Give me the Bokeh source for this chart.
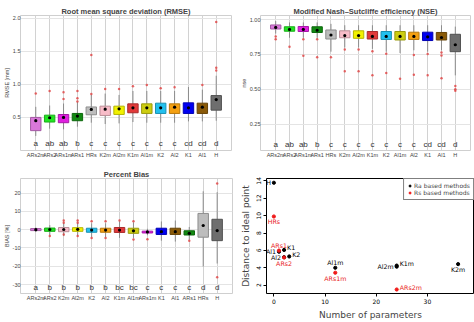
from bokeh.plotting import figure
from bokeh.models import FactorRange, Range1d, FixedTicker
from bokeh.layouts import row, column
from bokeh.embed import file_html
from bokeh.resources import INLINE
from bokeh.core.properties import value

FONT = "Liberation Sans"
SFONT = "DejaVu Sans"

method_colors = {
    "ARs2m": "#DA78DA", "ARs2": "#22E622", "ARs1m": "#E020E0", "ARs1": "#138A13",
    "HRs": "#BDBDBD", "K2m": "#F8BCC8", "Al2m": "#F2F200", "K1m": "#E23A3A",
    "Al1m": "#CDCD10", "K2": "#22C0EE", "Al2": "#F4A012", "K1": "#0000F0",
    "Al1": "#8A5A08", "H": "#6E6E6E",
}

# ---------------- RMSE ----------------
rmse_cats = ["ARs2m", "ARs2", "ARs1m", "ARs1", "HRs", "K2m", "Al2m", "K1m", "Al1m", "K2", "Al2", "K1", "Al1", "H"]
rmse_q1 = [0.30, 0.43, 0.42, 0.45, 0.54, 0.53, 0.545, 0.57, 0.56, 0.56, 0.56, 0.56, 0.56, 0.61]
rmse_med = [0.44, 0.48, 0.485, 0.51, 0.61, 0.61, 0.61, 0.64, 0.635, 0.635, 0.64, 0.635, 0.65, 0.69]
rmse_q3 = [0.50, 0.534, 0.544, 0.56, 0.658, 0.67, 0.67, 0.705, 0.705, 0.715, 0.705, 0.72, 0.715, 0.83]
rmse_lo = [0.22, 0.33, 0.32, 0.36, 0.42, 0.40, 0.41, 0.43, 0.42, 0.42, 0.42, 0.44, 0.44, 0.45]
rmse_hi = [0.66, 0.68, 0.71, 0.73, 0.84, 0.86, 0.84, 0.90, 0.90, 0.90, 0.90, 0.96, 0.92, 1.13]
rmse_mean = [0.45, 0.495, 0.50, 0.52, 0.62, 0.625, 0.63, 0.645, 0.645, 0.645, 0.655, 0.645, 0.655, 0.77]
rmse_out_cat = ["ARs2m", "ARs2", "ARs1m", "ARs1m", "ARs1", "ARs1", "ARs1", "HRs", "HRs", "K2m",
                "Al2m", "K1m", "Al1m", "K2", "Al2", "Al1", "H", "H", "H"]
rmse_out_val = [0.86, 0.90, 0.88, 0.78, 0.90, 0.79, 0.74, 1.445, 0.855, 0.93,
                0.93, 0.97, 0.99, 0.94, 0.955, 0.99, 1.94, 1.25, 1.21]
rmse_letters = ["a", "ab", "ab", "b", "c", "c", "c", "c", "c", "c", "c", "cd", "cd", "d"]
rmse_ticks = [0.5, 1.0, 1.5, 2.0]
rmse_tick_labels = ["0.5", "1.0", "1.5", "2.0"]

# ---------------- NSE ----------------
nse_cats = ["ARs2m", "ARs2", "ARs1m", "ARs1", "HRs", "K2m", "Al2m", "K1m", "K2", "Al1m", "Al2", "K1", "Al1", "H"]
nse_q1 = [0.933, 0.917, 0.915, 0.908, 0.861, 0.870, 0.866, 0.861, 0.858, 0.854, 0.858, 0.850, 0.854, 0.770]
nse_med = [0.950, 0.940, 0.937, 0.935, 0.904, 0.904, 0.900, 0.895, 0.890, 0.892, 0.890, 0.880, 0.880, 0.864]
nse_q3 = [0.962, 0.949, 0.951, 0.949, 0.926, 0.920, 0.920, 0.915, 0.915, 0.915, 0.910, 0.910, 0.908, 0.895]
nse_lo = [0.90, 0.87, 0.87, 0.87, 0.77, 0.80, 0.80, 0.79, 0.77, 0.76, 0.78, 0.77, 0.78, 0.60]
nse_hi = [0.99, 0.98, 0.98, 0.98, 0.97, 0.96, 0.96, 0.96, 0.96, 0.96, 0.96, 0.96, 0.96, 0.95]
nse_mean = [0.944, 0.930, 0.930, 0.924, 0.890, 0.886, 0.886, 0.880, 0.880, 0.880, 0.880, 0.877, 0.872, 0.820]
nse_out_cat = ["ARs2m", "ARs2m", "ARs2", "ARs1m", "ARs1m", "ARs1", "ARs1", "HRs", "K2m", "K2m",
               "Al2m", "Al2m", "K1m", "K1m", "K2", "K2", "Al1m", "Al2", "Al2", "K1", "K1",
               "Al1", "Al1", "Al1", "H", "H", "H"]
nse_out_val = [0.88, 0.86, 0.805, 0.86, 0.74, 0.86, 0.73, 0.73, 0.785, 0.63,
               0.785, 0.63, 0.774, 0.60, 0.756, 0.617, 0.575, 0.747, 0.605, 0.753, 0.60,
               0.765, 0.742, 0.58, 0.523, 0.50, 0.49]
nse_letters = ["a", "ab", "ab", "b", "c", "c", "c", "c", "c", "c", "c", "cd", "cd", "d"]
nse_ticks = [0.25, 0.50, 0.75, 1.00]
nse_tick_labels = ["0.25", "0.50", "0.75", "1.00"]

# ---------------- Percent bias ----------------
bias_cats = ["ARs2m", "ARs2", "K2m", "Al2m", "K2", "Al2", "K1m", "Al1m", "ARs1m", "K1", "Al1", "ARs1", "HRs", "H"]
bias_q1 = [-0.5, -0.9, -1.1, -0.9, -1.4, -1.4, -1.5, -2.0, -1.8, -2.6, -2.6, -2.9, -4.1, -6.0]
bias_med = [0.0, 0.0, 0.15, 0.3, -0.15, -0.3, 0.0, -0.6, -1.2, -1.1, -1.1, -1.7, 2.0, -1.5]
bias_q3 = [0.6, 0.9, 1.2, 1.1, 0.8, 0.8, 1.2, 0.8, -0.8, 0.8, 0.8, -0.6, 8.9, 5.7]
bias_lo = [-1.2, -3.0, -3.5, -3.2, -4.0, -4.0, -4.5, -4.5, -3.0, -6.0, -6.5, -5.5, -20.2, -18.5]
bias_hi = [1.2, 2.5, 3.5, 3.5, 3.5, 3.5, 4.5, 4.0, 0.5, 4.5, 5.0, 1.5, 21.0, 20.5]
bias_mean = [0.0, 0.1, 0.1, 0.2, -0.2, -0.2, -0.2, -0.6, -1.2, -1.1, -1.1, -2.0, 2.3, -0.5]
bias_out_cat = ["ARs2", "K2m", "K2m", "K2m", "Al2m", "Al2m", "Al2m", "K2", "K2", "Al2", "Al2",
                "K1m", "Al1m", "Al1m", "ARs1m", "ARs1", "H", "H"]
bias_out_val = [-3.4, 5.0, 3.8, -2.6, 5.0, 3.8, -3.4, 4.6, -4.6, 4.6, -4.6,
                5.0, 4.6, -5.4, -5.2, -6.0, 25.3, -26.0]
bias_letters = ["a", "b", "b", "b", "b", "b", "bc", "bc", "c", "c", "c", "c", "d", "d"]
bias_ticks = [-30, -20, -10, 0, 10, 20]
bias_tick_labels = ["-30", "-20", "-10", "0", "10", "20"]

# ---------------- Distance vs parameters ----------------
ra_names = ["H", "Al1", "K1", "Al2", "K2", "Al1m", "Al2m", "K1m", "K2m"]
ra_params = [0, 1, 2, 2, 3, 12, 24, 24, 36]
ra_dist = [13.78, 5.85, 6.05, 5.22, 5.3, 4.0, 4.13, 4.25, 4.42]
rs_names = ["HRs", "ARs1", "ARs2", "ARs1m", "ARs2m"]
rs_params = [0, 1, 2, 12, 24]
rs_dist = [9.9, 5.98, 5.18, 3.43, 1.5]
# label placement codes (style): l=left, r=right, a=above, b=below
ra_pos = ["l", "l", "r", "l", "r", "a", "l", "r", "b"]
rs_pos = ["b", "a", "b", "b", "r"]
sc_xticks = [0, 10, 20, 30]
sc_yticks = [2, 4, 6, 8, 10, 12, 14]


def darker(hexcol, f=0.75):
    r, g, b = int(hexcol[1:3], 16), int(hexcol[3:5], 16), int(hexcol[5:7], 16)
    return "#%02x%02x%02x" % (int(r * f), int(g * f), int(b * f))


def box_panel(title, cats, q1, med, q3, lo, hi, mean, out_cat, out_val, letters, letter_y,
              yr, ticks, tick_labels, ylabel, w, h, borders):
    bl, br, bt, bb = borders
    p = figure(x_range=FactorRange(*cats, range_padding=0.6, range_padding_units="absolute"),
               y_range=Range1d(*yr), width=w, height=h, output_backend="svg",
               toolbar_location=None, min_border_left=bl, min_border_right=br,
               min_border_top=bt, min_border_bottom=bb)
    p.title.text = title
    p.title.align = "center"
    p.title.text_font = FONT
    p.title.text_font_size = "7.5px"
    p.title.text_font_style = "bold"
    p.title.standoff = 0
    p.title.offset = 0
    p.outline_line_color = "#CFCFCF"
    p.xgrid.grid_line_color = "#D2D2D2"
    p.ygrid.grid_line_color = "#E4E4E4"
    p.ygrid.ticker = FixedTicker(ticks=ticks)
    p.yaxis.ticker = FixedTicker(ticks=ticks)
    p.yaxis.major_label_overrides = {t: l for t, l in zip(ticks, tick_labels)}
    for ax in (p.xaxis[0], p.yaxis[0]):
        ax.axis_line_color = None
        ax.major_tick_line_color = None
        ax.minor_tick_line_color = None
        ax.major_tick_out = 0
        ax.major_tick_in = 0
        ax.minor_tick_out = 0
        ax.minor_tick_in = 0
        ax.major_label_text_font = FONT
        ax.major_label_text_font_size = "5.5px"
        ax.major_label_text_color = "#444444"
        ax.major_label_standoff = 0
    p.xaxis.major_label_standoff = 1
    p.xaxis.major_label_orientation = "horizontal"
    p.xaxis.group_text_font_size = "0px"
    p.yaxis.axis_label = ylabel
    p.yaxis.axis_label_text_font = FONT
    p.yaxis.axis_label_text_font_size = "5.5px"
    p.yaxis.axis_label_text_font_style = "normal"
    p.yaxis.axis_label_standoff = 0

    fills = [method_colors[c] for c in cats]
    lines = [darker(method_colors[c]) for c in cats]
    p.segment(x0=cats, y0=lo, x1=cats, y1=hi, line_color="#8C8C8C", line_width=1)
    p.vbar(x=cats, top=q3, bottom=q1, width=0.75, fill_color=fills, line_color=lines,
           line_width=1)
    p.rect(x=cats, y=med, width=0.75, height=0, line_color="#1A1A1A", line_width=1)
    p.scatter(x=out_cat, y=out_val, size=2.5, fill_color="#E03535", line_color=None, alpha=0.75)
    p.scatter(x=cats, y=mean, size=3.2, fill_color="black", line_color=None)
    p.text(x=cats, y=[letter_y] * len(cats), text=letters, text_align="center",
           text_baseline="middle", text_font=value(FONT), text_font_size="8px",
           text_color="#333333")
    return p


p1 = box_panel("Root mean square deviation (RMSE)", rmse_cats, rmse_q1, rmse_med, rmse_q3,
               rmse_lo, rmse_hi, rmse_mean, rmse_out_cat, rmse_out_val, rmse_letters, 0.1,
               (0.0, 2.04), rmse_ticks, rmse_tick_labels, "RMSE [mm]", 237, 160, (17, 6, 15, 7))
p2 = box_panel("Modified Nash\u2013Sutcliffe efficiency (NSE)", nse_cats, nse_q1, nse_med, nse_q3,
               nse_lo, nse_hi, nse_mean, nse_out_cat, nse_out_val, nse_letters, 0.10,
               (0.06, 1.03), nse_ticks, nse_tick_labels, "nse", 237, 160, (22, 4, 7, 8))
p3 = box_panel("Percent Bias", bias_cats, bias_q1, bias_med, bias_q3, bias_lo, bias_hi,
               bias_mean, bias_out_cat, bias_out_val, bias_letters, -31.8,
               (-34.9, 28.0), bias_ticks, bias_tick_labels, "BIAS [%]", 237, 162, (17, 5, 17, 9))

# scatter panel
p4 = figure(x_range=Range1d(-1.44, 39.2), y_range=Range1d(1.04, 14.27), width=237, height=162,
            output_backend="svg", toolbar_location=None, min_border_left=21, min_border_right=0,
            min_border_top=18, min_border_bottom=25)
p4.grid.grid_line_color = None
p4.outline_line_color = "black"
p4.xaxis.ticker = FixedTicker(ticks=sc_xticks)
p4.yaxis.ticker = FixedTicker(ticks=sc_yticks)
for ax in (p4.xaxis[0], p4.yaxis[0]):
    ax.axis_line_color = None
    ax.major_tick_out = 3
    ax.major_tick_in = 0
    ax.minor_tick_out = 0
    ax.minor_tick_in = 0
    ax.minor_tick_line_color = None
    ax.major_tick_line_color = "black"
    ax.major_label_text_font = SFONT
    ax.major_label_text_font_size = "6px"
    ax.major_label_text_color = "black"
    ax.major_label_standoff = 2
    ax.axis_label_text_font = SFONT
    ax.axis_label_text_font_size = "9px"
    ax.axis_label_text_font_style = "normal"
    ax.axis_label_standoff = 3
p4.yaxis.major_label_orientation = "vertical"
p4.xaxis.axis_label = "Number of parameters"
p4.yaxis.axis_label = "Distance to ideal point"

ra_r = p4.scatter(ra_params, ra_dist, size=3.2, color="black", legend_label="Ra based methods")
rs_r = p4.scatter(rs_params, rs_dist, size=3.2, color="#F01818", legend_label="Rs based methods")

POS = {"l": (-3, 0, "right", "middle"), "r": (3, -2, "left", "middle"),
       "a": (0, -2, "center", "bottom"), "b": (0, 2, "center", "top")}


def label_points(xs, ys, names, pos, color):
    for code in POS:
        idx = [i for i, c in enumerate(pos) if c == code]
        if not idx:
            continue
        dx, dy, al, bl = POS[code]
        p4.text(x=[xs[i] for i in idx], y=[ys[i] for i in idx], text=[names[i] for i in idx],
                x_offset=dx, y_offset=dy, text_align=al, text_baseline=bl,
                text_font=value(SFONT), text_font_size="6.3px", text_color=color)


label_points(ra_params, ra_dist, ra_names, ra_pos, "black")
label_points(rs_params, rs_dist, rs_names, rs_pos, "#E81818")

lg = p4.legend[0]
lg.location = "top_right"
lg.margin = 0
lg.padding = 3
lg.spacing = 0
lg.label_standoff = 2
lg.glyph_width = 5
lg.glyph_height = 7
lg.label_height = 7
lg.label_text_font = SFONT
lg.label_text_font_size = "6px"
lg.border_line_color = "black"
lg.border_line_width = 1
lg.background_fill_alpha = 1

layout = column(row(p1, p2, spacing=0), row(p3, p4, spacing=0), spacing=0)
open("out.html", "w").write(file_html(layout, INLINE))
